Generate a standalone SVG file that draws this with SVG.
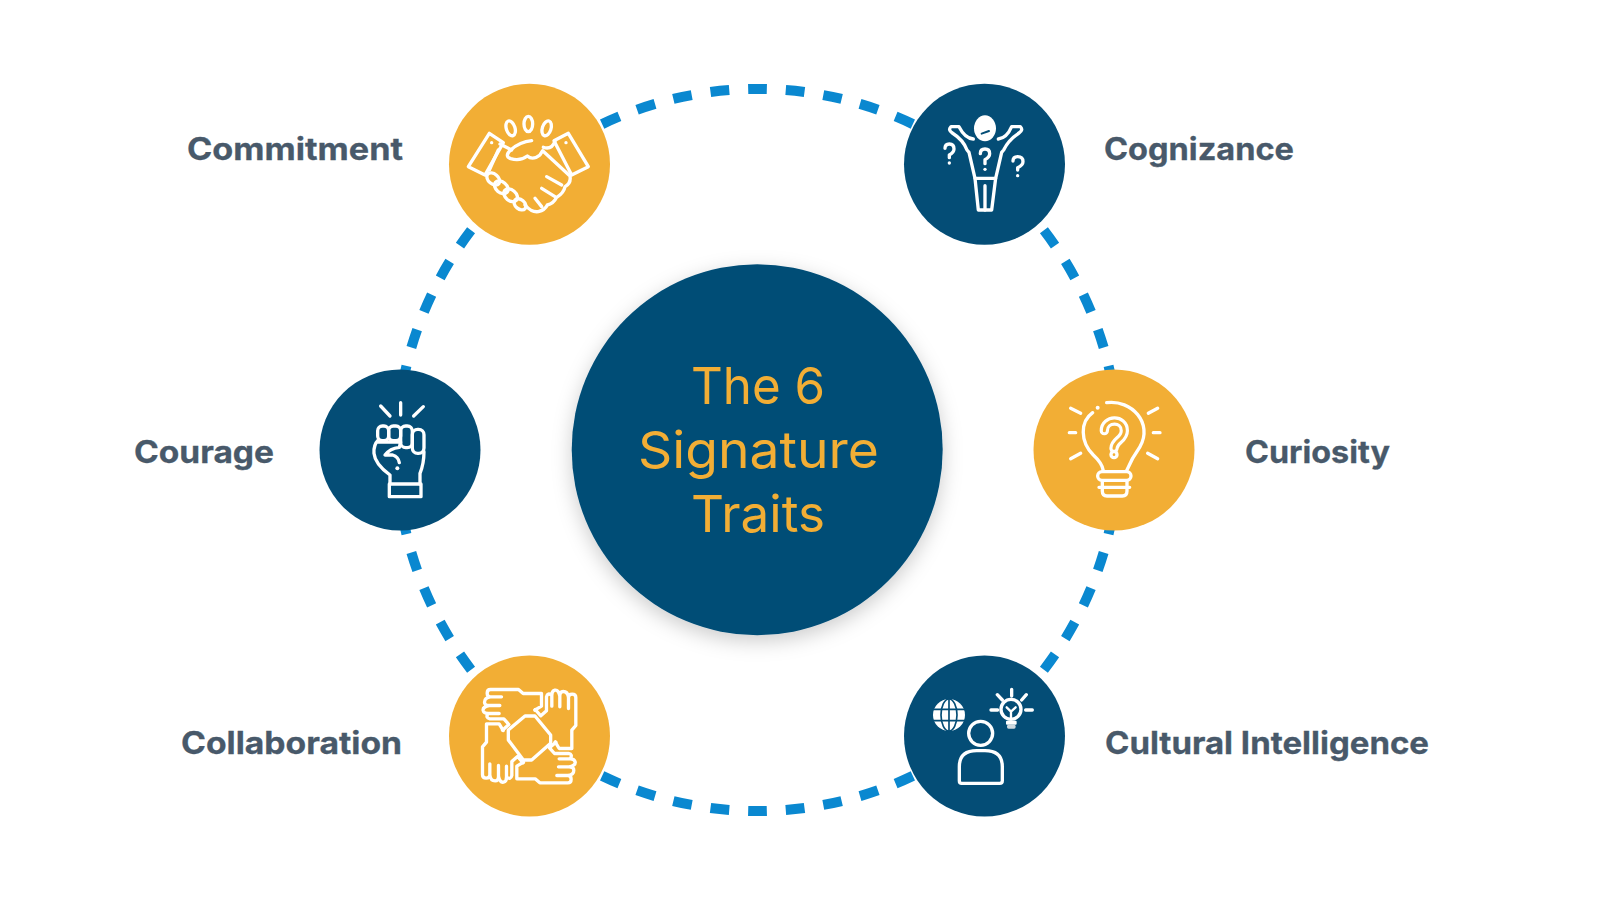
<svg xmlns="http://www.w3.org/2000/svg" xmlns:xlink="http://www.w3.org/1999/xlink" width="1600" height="899" viewBox="0 0 1600 899">
<style>
.lbl{font-family:"Inter","Noto Sans",sans-serif;font-weight:700;font-size:31px;fill:#48596a;stroke:#48596a;stroke-width:.3}
.ttl{font-family:"Inter","Noto Sans",sans-serif;font-weight:400;font-size:51px;fill:#f2ae35}
.navy{fill:#044d76}.gold{fill:#f2ae35}
.ic{fill:none;stroke:#fff;stroke-width:10;stroke-linecap:round;stroke-linejoin:round}
.w{fill:#fff;stroke:none}
</style>
<defs>
<filter id="sh" x="-20%" y="-20%" width="140%" height="140%"><feDropShadow dx="0" dy="6" stdDeviation="10" flood-color="#000" flood-opacity="0.2"/></filter>
<path id="hand" d="M305 132H250L236 120H152Q142 120 142 131Q142 142 152 142H185M152 142Q134 144 134 158Q134 168 148 168H180M148 168Q128 172 130 183Q132 192 145 192H178M145 192Q136 205 150 208H192L207 225L188 242M305 132V170L285 182"/>
</defs>
<rect width="1600" height="899" fill="#fff"/>
<g id="connectors"><circle cx="757.5" cy="450" r="361" fill="none" stroke="#0a88d0" stroke-width="10" pathLength="60" stroke-dasharray="0.5 0.5" stroke-dashoffset="0.25"/></g>
<g id="center"><circle class="navy" cx="757.2" cy="449.7" r="185.5" filter="url(#sh)"/>
<text class="ttl" x="691" y="404" textLength="134" lengthAdjust="spacingAndGlyphs">The 6</text>
<text class="ttl" x="638" y="468" textLength="241" lengthAdjust="spacingAndGlyphs">Signature</text>
<text class="ttl" x="691" y="532" textLength="134" lengthAdjust="spacingAndGlyphs">Traits</text></g>
<g id="commitment"><circle class="gold" cx="529.5" cy="164.3" r="80.5"/>
<text class="lbl" x="187" y="160" textLength="216" lengthAdjust="spacingAndGlyphs">Commitment</text>
<g transform="translate(440 70) scale(.3333)"><g class="ic">
<path d="M148 190L85 290L135 315L190 218Z"/><path d="M385 190L445 290L395 315L342 212Z"/>
<ellipse cx="212" cy="175" rx="13" ry="23" transform="rotate(-18 212 175)"/><ellipse cx="265" cy="162" rx="13" ry="23"/><ellipse cx="320" cy="175" rx="13" ry="23" transform="rotate(18 320 175)"/>
<path d="M180 222L215 240M175 240L148 300"/>
<path d="M275 212Q240 215 212 240Q192 258 212 266Q240 275 262 258Q278 272 300 255L308 242L390 318Q394 340 375 350Q372 368 350 382Q340 402 322 405Q315 420 295 425Q275 428 255 405"/>
<path d="M320 320L365 345M305 355L345 380M285 385L305 410M310 232Q335 240 345 214"/>
<ellipse cx="160" cy="327" rx="15" ry="22" transform="rotate(-50 160 327)"/><ellipse cx="184" cy="352" rx="16" ry="23" transform="rotate(-50 184 352)"/><ellipse cx="212" cy="376" rx="16" ry="23" transform="rotate(-50 212 376)"/><ellipse cx="240" cy="403" rx="14" ry="20" transform="rotate(-50 240 403)"/>
</g><circle class="w" cx="155" cy="218" r="5"/><circle class="w" cx="378" cy="218" r="5"/></g></g>
<g id="cognizance"><circle class="navy" cx="984.5" cy="164.3" r="80.5"/>
<text class="lbl" x="1104" y="160" textLength="190" lengthAdjust="spacingAndGlyphs">Cognizance</text>
<g transform="translate(895 75) scale(.3333)"><ellipse class="w" cx="270" cy="160" rx="33" ry="39"/><path d="M260 176L282 168" stroke="#044d76" stroke-width="6" stroke-linecap="round"/><g class="ic">
<path d="M235 192Q210 190 192 155H168Q158 165 172 174Q205 195 216 225L222 232L240 310L250 405H290L302 310L320 232L326 225Q340 195 372 174Q386 165 376 155H350Q335 190 310 192"/>
<path d="M240 310H302M270 332V405"/>
<path d="M150 220Q150 207 163 207Q177 207 177 222Q177 232 163 240V248"/><path d="M256 236Q256 222 270 222Q284 222 284 236Q284 246 270 254V266"/><path d="M354 258Q354 245 368 245Q384 245 384 260Q384 270 368 278V285"/>
</g><circle class="w" cx="163" cy="264" r="5"/><circle class="w" cx="270" cy="283" r="5"/><circle class="w" cx="368" cy="302" r="5"/></g></g>
<g id="curiosity"><circle class="gold" cx="1114" cy="450" r="80.5"/>
<text class="lbl" x="1245" y="463" textLength="145" lengthAdjust="spacingAndGlyphs">Curiosity</text>
<g transform="translate(1025 360) scale(.3333)"><g class="ic">
<path d="M203 158C165 185 165 245 205 285Q232 310 235 332"/><path d="M245 128C320 118 385 190 345 260Q320 295 305 332"/>
<rect x="218" y="335" width="100" height="26" rx="13"/><path d="M232 362V393Q232 408 246 408H292Q306 408 306 393V362M222 382H314"/>
<path d="M137 145L167 160M133 218H152M137 296L167 280M398 145L370 160M385 218H405M398 296L368 280"/>
</g><circle class="w" cx="218" cy="143" r="6"/>
<path d="M238 212C238 175 298 172 298 212C298 240 268 240 267 265" fill="none" stroke="#fff" stroke-width="28" stroke-linecap="round"/>
<path d="M238 212C238 175 298 172 298 212C298 240 268 240 267 265" fill="none" stroke="#f2ae35" stroke-width="9" stroke-linecap="round"/>
<circle class="w" cx="267" cy="284" r="14"/><circle class="gold" cx="267" cy="284" r="4"/></g></g>
<g id="cultural-intelligence"><circle class="navy" cx="984.5" cy="736" r="80.5"/>
<text class="lbl" x="1105" y="754" textLength="324" lengthAdjust="spacingAndGlyphs">Cultural Intelligence</text>
<g transform="translate(895 650) scale(.3333)"><g class="ic">
<circle cx="257" cy="250" r="36"/><path d="M193 392V350Q193 302 245 302H270Q322 302 322 350V392Q322 400 314 400H200Q193 400 193 392Z"/>
<circle cx="348" cy="178" r="30"/><path d="M350 118V138M307 134L322 150M394 134L380 150M288 180H308M392 180H412"/>
<path d="M335 172L348 185L362 172M348 185V205" stroke-width="7"/></g>
<rect class="w" x="333" y="212" width="32" height="12" rx="3"/><rect x="336" y="224" width="26" height="12" rx="5" fill="#cfd9df"/>
<circle class="w" cx="162" cy="195" r="48"/><g fill="none" stroke="#044d76" stroke-width="5"><path d="M114 178H210M114 212H210M162 147V243"/><ellipse cx="162" cy="195" rx="24" ry="48"/></g></g></g>
<g id="collaboration"><circle class="gold" cx="529.5" cy="736" r="80.5"/>
<text class="lbl" x="181" y="754" textLength="221" lengthAdjust="spacingAndGlyphs">Collaboration</text>
<g transform="translate(440 650) scale(.3333)"><g class="ic">
<path d="M255 198H285L332 255V280L275 330H250L205 270V240Z"/>
<g transform="translate(-.5 -1.5)"><use xlink:href="#hand"/><use xlink:href="#hand" transform="rotate(90 268 260)"/><use xlink:href="#hand" transform="rotate(180 268 260)"/><use xlink:href="#hand" transform="rotate(270 268 260)"/></g>
</g></g></g>
<g id="courage"><circle class="navy" cx="400" cy="450" r="80.5"/>
<text class="lbl" x="134" y="463" textLength="140" lengthAdjust="spacingAndGlyphs">Courage</text>
<g transform="translate(310 360) scale(.3333)"><g class="ic">
<path d="M272 128V165M212 138L240 168M340 140L311 168"/>
<rect x="203" y="198" width="33" height="44" rx="14"/><rect x="236" y="198" width="36" height="44" rx="14"/><rect x="272" y="198" width="35" height="65" rx="15"/><rect x="307" y="208" width="35" height="72" rx="16"/>
<path d="M205 240Q190 255 192 280Q195 312 240 345V372M342 275Q342 310 330 340V372"/>
<rect x="238" y="372" width="95" height="38"/>
<path d="M205 246H272L268 262Q240 265 225 285H248Q265 290 268 308"/>
</g><circle class="w" cx="262" cy="325" r="6"/></g></g>
</svg>
